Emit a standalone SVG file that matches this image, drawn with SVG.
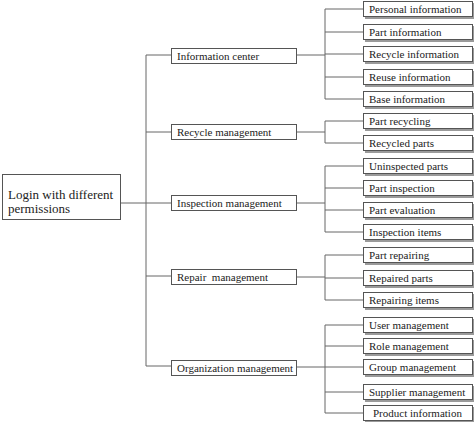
<svg xmlns="http://www.w3.org/2000/svg" width="474" height="422" viewBox="0 0 474 422">
<defs>
<style>
.b{fill:#fff;stroke:#555;stroke-width:1}
.s{fill:#9a9a9a}
.t{font-family:"Liberation Serif","Times New Roman",serif;font-size:11px;fill:#222}
.tl{font-family:"Liberation Serif","Times New Roman",serif;font-size:13px;fill:#222}
.c{fill:none;stroke:#666;stroke-width:1}
</style>
</defs>
<rect width="474" height="422" fill="#fff"/>
<g id="connectors">
<path class="c" d="M120,203H146M146,55V366M146,55H171M146,132H171M146,203H171M146,276H171M146,366H171"/>
<path class="c" d="M297,55H325M325,9V99M325,9H363M325,32H363M325,54H363M325,77H363M325,99H363"/>
<path class="c" d="M297,132H325M325,121V143M325,121H363M325,143H363"/>
<path class="c" d="M297,203H325M325,166V232M325,166H363M325,188H363M325,210H363M325,232H363"/>
<path class="c" d="M297,277H325M325,255V300M325,255H363M325,278H363M325,300H363"/>
<path class="c" d="M297,367H325M325,325V413M325,325H363M325,346H363M325,367H363M325,392H363M325,413H363"/>
</g>
<g id="login"><rect class="b" x="2.5" y="174.5" width="118" height="45"/><text class="tl" x="8" y="199">Login with different</text><text class="tl" x="8" y="213">permissions</text></g>
<g id="info-center"><rect class="b" x="171.5" y="48.5" width="125" height="15"/><text class="t" x="177" y="60">Information center</text></g>
<g id="recycle-mgmt"><rect class="b" x="171.5" y="124.5" width="125" height="15"/><text class="t" x="177" y="136">Recycle management</text></g>
<g id="inspection-mgmt"><rect class="b" x="171.5" y="195.5" width="125" height="15"/><text class="t" x="177" y="207">Inspection management</text></g>
<g id="repair-mgmt"><rect class="b" x="171.5" y="269.5" width="125" height="15"/><text class="t" x="177" y="281" xml:space="preserve">Repair  management</text></g>
<g id="org-mgmt"><rect class="b" x="171.5" y="360.5" width="125" height="15"/><text class="t" x="177" y="372">Organization management</text></g>
<g id="personal-info"><rect class="s" x="365" y="3" width="109" height="16"/><rect class="b" x="363.5" y="1.5" width="109" height="15"/><text class="t" x="369" y="13">Personal information</text></g>
<g id="part-info"><rect class="s" x="365" y="26" width="109" height="16"/><rect class="b" x="363.5" y="24.5" width="109" height="15"/><text class="t" x="369" y="36">Part information</text></g>
<g id="recycle-info"><rect class="s" x="365" y="48" width="109" height="16"/><rect class="b" x="363.5" y="46.5" width="109" height="15"/><text class="t" x="369" y="58">Recycle information</text></g>
<g id="reuse-info"><rect class="s" x="365" y="71" width="109" height="16"/><rect class="b" x="363.5" y="69.5" width="109" height="15"/><text class="t" x="369" y="81">Reuse information</text></g>
<g id="base-info"><rect class="s" x="365" y="93" width="109" height="16"/><rect class="b" x="363.5" y="91.5" width="109" height="15"/><text class="t" x="369" y="103">Base information</text></g>
<g id="part-recycling"><rect class="s" x="365" y="115" width="109" height="16"/><rect class="b" x="363.5" y="113.5" width="109" height="15"/><text class="t" x="369" y="125">Part recycling</text></g>
<g id="recycled-parts"><rect class="s" x="365" y="137" width="109" height="16"/><rect class="b" x="363.5" y="135.5" width="109" height="15"/><text class="t" x="369" y="147">Recycled parts</text></g>
<g id="uninspected-parts"><rect class="s" x="365" y="160" width="109" height="16"/><rect class="b" x="363.5" y="158.5" width="109" height="15"/><text class="t" x="369" y="170">Uninspected parts</text></g>
<g id="part-inspection"><rect class="s" x="365" y="182" width="109" height="16"/><rect class="b" x="363.5" y="180.5" width="109" height="15"/><text class="t" x="369" y="192">Part inspection</text></g>
<g id="part-evaluation"><rect class="s" x="365" y="204" width="109" height="16"/><rect class="b" x="363.5" y="202.5" width="109" height="15"/><text class="t" x="369" y="214">Part evaluation</text></g>
<g id="inspection-items"><rect class="s" x="365" y="226" width="109" height="16"/><rect class="b" x="363.5" y="224.5" width="109" height="15"/><text class="t" x="369" y="236">Inspection items</text></g>
<g id="part-repairing"><rect class="s" x="365" y="249" width="109" height="16"/><rect class="b" x="363.5" y="247.5" width="109" height="15"/><text class="t" x="369" y="259">Part repairing</text></g>
<g id="repaired-parts"><rect class="s" x="365" y="272" width="109" height="16"/><rect class="b" x="363.5" y="270.5" width="109" height="15"/><text class="t" x="369" y="282">Repaired parts</text></g>
<g id="repairing-items"><rect class="s" x="365" y="294" width="109" height="16"/><rect class="b" x="363.5" y="292.5" width="109" height="15"/><text class="t" x="369" y="304">Repairing items</text></g>
<g id="user-mgmt"><rect class="s" x="365" y="319" width="109" height="16"/><rect class="b" x="363.5" y="317.5" width="109" height="15"/><text class="t" x="369" y="329">User management</text></g>
<g id="role-mgmt"><rect class="s" x="365" y="340" width="109" height="16"/><rect class="b" x="363.5" y="338.5" width="109" height="15"/><text class="t" x="369" y="350">Role management</text></g>
<g id="group-mgmt"><rect class="s" x="365" y="361" width="109" height="16"/><rect class="b" x="363.5" y="359.5" width="109" height="15"/><text class="t" x="369" y="371">Group management</text></g>
<g id="supplier-mgmt"><rect class="s" x="365" y="386" width="109" height="16"/><rect class="b" x="363.5" y="384.5" width="109" height="15"/><text class="t" x="369" y="396">Supplier management</text></g>
<g id="product-info"><rect class="s" x="365" y="407" width="109" height="15"/><rect class="b" x="363.5" y="405.5" width="109" height="15"/><text class="t" x="373" y="417">Product information</text></g>
</svg>
